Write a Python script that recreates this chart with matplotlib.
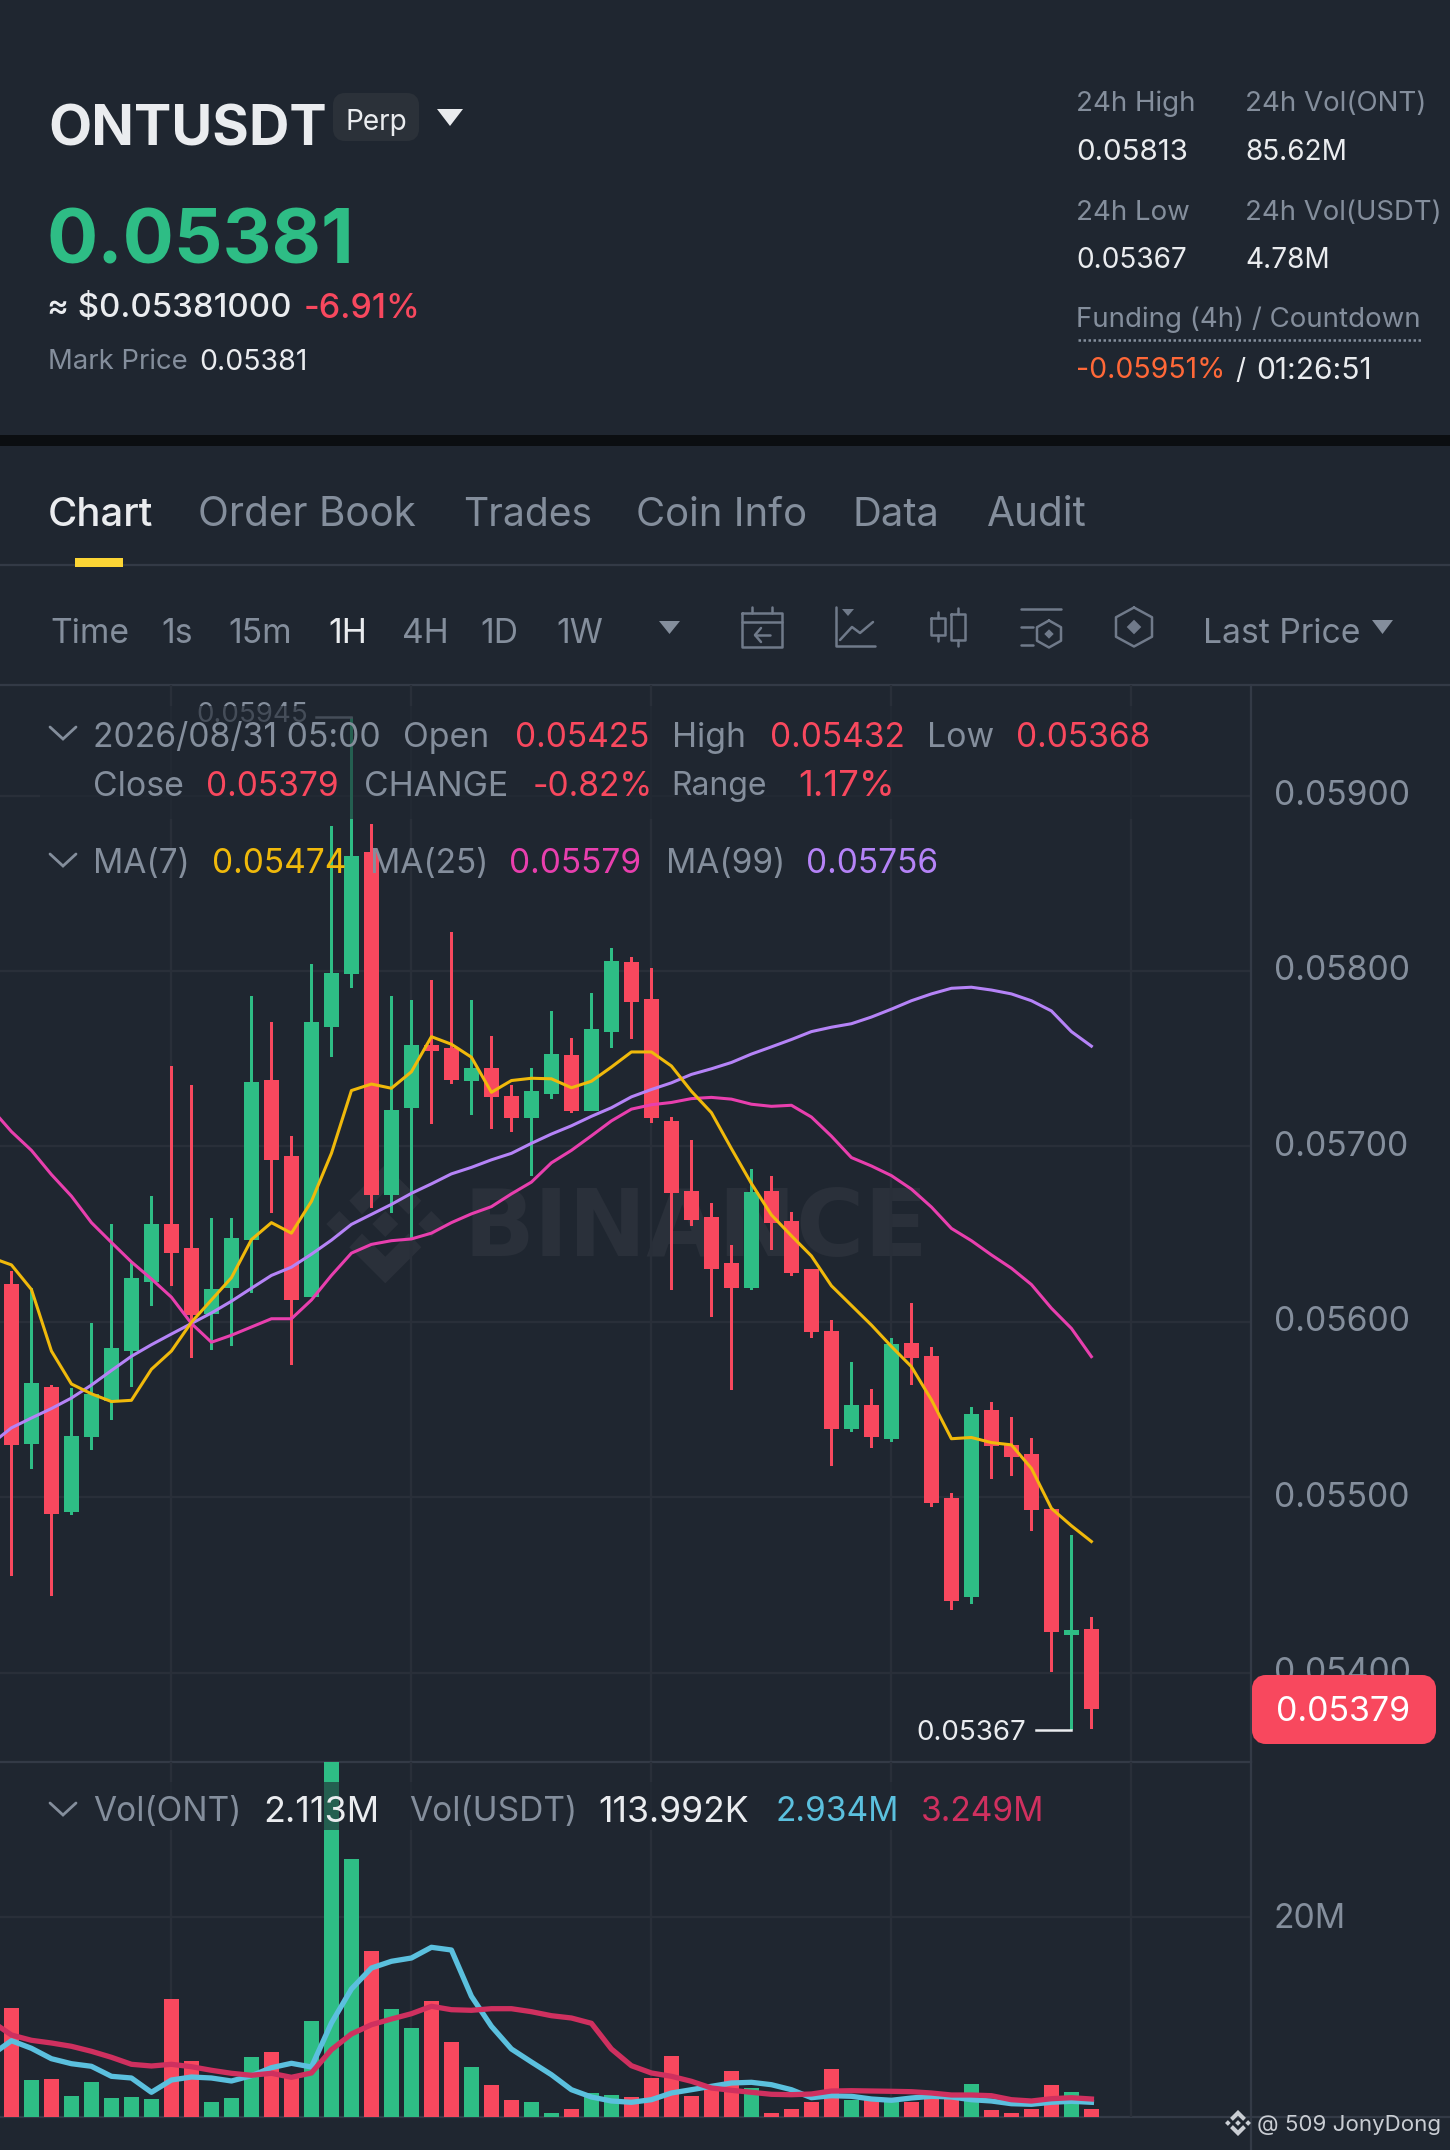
import numpy as np
import matplotlib
matplotlib.use('Agg')
import matplotlib.pyplot as plt
from matplotlib.patches import FancyBboxPatch, Polygon, Rectangle
from matplotlib.transforms import ScaledTranslation

plt.rcParams['font.family'] = ['Inter', 'DejaVu Sans']

# candles, one hour each
opens = [.056217, .055304, .055629, .054913, .055344, .055548, .055833, .056224, .056559, .056418, .056043,
         .056191, .056465, .057378, .056946, .056140, .057682, .057980, .058679, .056722, .057221, .057579,
         .057559, .057371, .057448, .057288, .057164, .057301, .057518, .057201, .057654, .058051, .057840,
         .057147, .056747, .056596, .056337, .056192, .056747, .056577, .056298, .055946, .055388, .055526,
         .055330, .055878, .055804, .054994, .054429, .055494, .055295, .055247, .054933, .054212, .05425]
closes = [.055298, .055649, .054906, .055348, .055589, .055849, .056248, .056559, .056391, .056040, .056187,
          .056478, .057368, .056923, .056124, .057706, .057987, .058656, .056722, .057207, .057579, .057545,
          .057378, .057448, .057284, .057164, .057318, .057528, .057201, .057669, .058058, .057821, .057163,
          .056734, .056580, .056301, .056192, .056737, .056564, .056279, .055939, .055391, .055526, .055340,
          .055875, .055792, .054968, .054410, .055474, .055292, .055231, .054929, .054231, .054240, .05379]
highs = [.056291, .056191, .055639, .055622, .05599, .056559, .056341, .056719, .057458, .057348, .056592,
         .056592, .057856, .057709, .05706, .058037, .058826, .05945, .058839, .057856, .057836, .057946,
         .058221, .057836, .057629, .057348, .057448, .057769, .057619, .057876, .058128, .05808, .058019,
         .057167, .057038, .056676, .056436, .056869, .05683, .056628, .056298, .056010, .055769, .055615,
         .055907, .056109, .055856, .055026, .055513, .055545, .055458, .055337, .054936, .054782, .054314]
lows = [.054552, .05516, .054435, .054899, .055271, .055441, .055629, .05609, .056204, .055793, .05584,
        .055863, .056164, .056622, .055752, .05614, .057512, .0579, .056649, .056622, .056478, .057127,
        .057358, .057181, .0571, .05708, .056829, .057268, .057191, .057201, .057561, .057612, .057131,
        .056179, .056548, .056029, .055609, .056179, .056407, .05626, .05591, .055176, .055369, .055279,
        .055317, .055638, .054946, .054359, .054388, .055106, .055119, .054808, .054003, .05367, .053676]

# moving averages, first point sits just left of the visible range
ma7 = [.056365, .056324, .056184, .055833, .055645, .055589, .055545, .055552, .055729, .055833, .055997,
       .056124, .056251, .056468, .056565, .056505, .056686, .05696, .057318, .057355, .057331, .057425,
       .057625, .057582, .057508, .057308, .057375, .057388, .057385, .057334, .057371, .057452, .057538,
       .057538, .057458, .057314, .057192, .056987, .056788, .056609, .05649, .056375, .056205, .056093,
       .055981, .055859, .055744, .055555, .055333, .05534, .055311, .055298, .055164, .054936, .054837, .054747]
ma25 = [.057214, .057084, .056977, .056839, .056716, .056565, .056452, .056341, .056244, .05614, .05599,
        .055883, .055923, .05597, .056017, .056017, .056124, .056264, .056391, .056441, .056462, .056472,
        .056505, .056565, .056615, .056656, .056729, .056796, .056906, .056977, .05706, .057145, .057212,
        .057237, .05725, .057272, .057279, .057269, .05724, .057228, .057234, .057167, .057058, .056936,
        .056888, .056833, .056756, .056654, .056532, .056462, .056381, .056305, .056212, .056077, .055962, .055801]
ma99 = [.055304, .055395, .055451, .055505, .055565, .055639, .055722, .055803, .055869, .05593, .05599,
        .05605, .056117, .056191, .056264, .056311, .056385, .056465, .056555, .056612, .056669, .056732,
        .056786, .056843, .05688, .056923, .05696, .057017, .05707, .057117, .057171, .05722, .057282,
        .057324, .057362, .05741, .057442, .057478, .057526, .057567, .057609, .057654, .057679, .057699,
        .057737, .057782, .05783, .057869, .057901, .057907, .057891, .057869, .05783, .057772, .057654, .057571]

# volume in millions
vols = [10.9, 3.73, 3.8, 2.13, 3.47, 1.87, 2.0, 1.8, 11.77, 5.6, 1.53, 1.87, 6.03, 6.53, 4.2, 9.57, 36.0, 25.77,
        16.6, 10.83, 8.93, 11.6, 7.47, 4.97, 3.23, 1.67, 1.53, 0.4, 0.8, 2.4, 2.17, 2.0, 3.9, 6.13, 2.13, 2.9,
        4.63, 2.9, 0.4, 0.8, 1.53, 4.83, 1.67, 1.73, 1.57, 1.47, 1.9, 2.23, 3.27, 0.73, 0.4, 0.8, 3.23, 2.47, 0.77]
vol_ma5 = [6.2, 7.63, 6.87, 5.83, 5.33, 5.07, 4.07, 3.9, 2.47, 3.7, 4.0, 3.9, 3.6, 4.13, 4.93, 5.37, 5.0, 9.4, 12.8,
           14.9, 15.57, 15.9, 16.97, 16.7, 12.07, 9.07, 6.8, 5.5, 4.23, 2.73, 2.0, 1.6, 1.47, 1.73, 2.4, 2.73,
           3.07, 3.4, 3.47, 3.23, 2.73, 1.93, 2.13, 2.07, 1.8, 1.67, 1.9, 2.07, 2.0, 1.73, 1.6, 1.33, 1.27, 1.47,
           1.57, 1.47]
vol_ma10 = [9.57, 8.2, 7.67, 7.4, 7.07, 6.57, 5.97, 5.27, 5.1, 5.27, 5.03, 4.67, 4.37, 4.17, 4.37, 3.97, 4.4, 6.73,
            8.3, 9.23, 9.8, 10.33, 11.07, 10.73, 10.67, 10.83, 10.83, 10.53, 10.13, 9.9, 9.37, 6.8, 5.13, 4.4,
            4.07, 3.57, 2.9, 2.67, 2.47, 2.27, 2.23, 2.3, 2.6, 2.63, 2.6, 2.57, 2.53, 2.4, 2.2, 2.2, 2.13, 1.73,
            1.6, 1.83, 1.93, 1.8]

price_ticks = [.054, .055, .056, .057, .058, .059]
time_ticks = [8, 20, 32, 44, 56]

BG = '#1F2630'
GRID = '#292F39'
LINE = '#333A46'
GREY = '#848E9C'
WHITE = '#EAECEF'
GREEN = '#2EBD85'
RED = '#F8485E'
W, H = 1450, 2150

fig = plt.figure(figsize=(W / 100, H / 100), dpi=100, facecolor=BG)


def full_axes(z):
    a = fig.add_axes([0, 0, 1, 1], zorder=z)
    a.set_xlim(0, W)
    a.set_ylim(H, 0)
    a.axis('off')
    return a


def logo(a, cx, cy, s, color, z=1):
    # binance mark: three small diamonds and two chevrons
    for dx in (-46, 0, 46):
        pts = [(dx, -13), (dx + 13, 0), (dx, 13), (dx - 13, 0)]
        a.add_patch(Polygon([(cx + p * s, cy + q * s) for p, q in pts], fc=color, ec='none', zorder=z))
    for sign in (1, -1):
        pts = [(0, 59.3), (-36, 23.3), (-23.3, 9.5), (0, 32.7), (23.3, 9.5), (36, 23.3)]
        a.add_patch(Polygon([(cx + p * s, cy + sign * q * s) for p, q in pts], fc=color, ec='none', zorder=z))


back = full_axes(0)
ov = full_axes(3)


def txt(x, y, s, color=GREY, px=30, weight='normal', ha='left', a=ov, z=5, **kw):
    a.text(x, y, s, color=color, fontsize=px * 0.72, fontweight=weight, ha=ha, va='center', zorder=z, **kw)


def lift_labels(a, n=3):
    # tick labels sit a little higher in the reference
    up = ScaledTranslation(0, n / 100, fig.dpi_scale_trans)
    for lab in a.get_yticklabels():
        lab.set_transform(lab.get_transform() + up)


# header band and dividers
back.add_patch(Rectangle((0, 435), W, 11, fc='#0B0E11', ec='none'))
back.plot([0, W], [565, 565], color=LINE, lw=1.6)
back.plot([0, W], [685, 685], color=LINE, lw=1.6)
back.plot([1251, 1251], [2117, H], color=LINE, lw=1.6)
back.plot([0, W], [2117, 2117], color=LINE, lw=1.6)
back.add_patch(Rectangle((75, 558), 48, 9, fc='#FCD535', ec='none', zorder=3))

# watermark under the candles
logo(back, 385.3, 1224, 1, '#2A303A')
txt(464, 1230, 'BINANCE', '#2A303A', 93, 'bold', a=back, family='DejaVu Sans')

# price pane
ax = fig.add_axes([0, 1 - 1762 / H, 1251 / W, (1762 - 685) / H], zorder=1, facecolor='none')
ax.set_xlim(-0.5715, 61.98)
ax.set_ylim(.05349, .05963)
ax.set_yticks(price_ticks)
ax.set_yticklabels(['%.5f' % p for p in price_ticks])
ax.set_xticks(time_ticks)
ax.set_xticklabels([])
ax.yaxis.tick_right()
ax.tick_params(length=0, labelsize=24.3, labelcolor=GREY, pad=16.5)
lift_labels(ax)
ax.grid(color=GRID, lw=1.7)
ax.set_axisbelow(True)
for name, sp in ax.spines.items():
    sp.set_visible(name in ('right', 'bottom'))
    sp.set_color(LINE)
    sp.set_linewidth(1.6)

idx = np.arange(len(opens))
o, c, hi, lo = map(np.array, (opens, closes, highs, lows))
colors = [GREEN if a >= b else RED for a, b in zip(c, o)]
ax.bar(idx, hi - lo, bottom=lo, width=0.125, color=colors, zorder=3)
ax.bar(idx, np.abs(c - o), bottom=np.minimum(o, c), width=0.715, color=colors, zorder=3)

ma_x = np.arange(-1, len(opens))
ax.plot(ma_x, ma99, color='#B583F7', lw=2.2, zorder=4)
ax.plot(ma_x, ma25, color='#E83FAE', lw=2.2, zorder=4)
ax.plot(ma_x, ma7, color='#F0B90B', lw=2.2, zorder=5)

# high and low markers
ax.plot([15.25, 17], [max(highs), max(highs)], color=GREY, lw=1.8, zorder=4)
ax.plot([51.25, 53], [min(lows), min(lows)], color=WHITE, lw=1.8, zorder=6)
ax.annotate('%.5f' % max(highs), (14.85, max(highs)), xytext=(0, 1), textcoords='offset points', color=GREY,
            fontsize=20, ha='right', va='center', zorder=4)
ax.annotate('%.5f' % min(lows), (50.75, min(lows)), xytext=(0, -2), textcoords='offset points', color=WHITE,
            fontsize=20, ha='right', va='center', zorder=6)

# volume pane
vx = fig.add_axes([0, 1 - 2117 / H, 1251 / W, 355 / H], zorder=2, facecolor='none')
vx.set_xlim(-0.5715, 61.98)
vx.set_ylim(0, 35.5)
vx.set_yticks([20])
vx.set_yticklabels(['20M'])
vx.set_xticks(time_ticks)
vx.set_xticklabels([])
vx.yaxis.tick_right()
vx.tick_params(length=0, labelsize=24.3, labelcolor=GREY, pad=16.5)
lift_labels(vx, 1)
vx.grid(color=GRID, lw=1.7)
vx.set_axisbelow(True)
for name, sp in vx.spines.items():
    sp.set_visible(name in ('right',))
    sp.set_color(LINE)
    sp.set_linewidth(1.6)
vx.bar(idx, vols, width=0.715, color=colors, zorder=3)
vx.plot(ma_x, vol_ma5, color='#5BC0DE', lw=3.8, zorder=4)
vx.plot(ma_x, vol_ma10, color='#CF305F', lw=3.8, zorder=5)

# legend blocks dim what is behind them
ov.add_patch(Rectangle((40, 706), 1120, 113, fc=BG, ec='none', alpha=0.62, zorder=1))
ov.add_patch(Rectangle((40, 1782), 1015, 48, fc=BG, ec='none', alpha=0.62, zorder=1))

# top left block
txt(48, 131, 'ONTUSDT', WHITE, 56, 'bold')
ov.add_patch(FancyBboxPatch((339, 99), 74, 36, boxstyle='round,pad=0,rounding_size=6', fc='#2B3139', ec='#2B3139',
                            lw=12 * 0.72, zorder=1))
txt(346, 123, 'Perp', WHITE, 28)
ov.add_patch(Polygon([(437, 109), (463, 109), (450, 126)], fc=WHITE, ec='none'))
txt(47, 244, '0.05381', GREEN, 76, 'bold')
txt(47, 309, '≈ $0.05381000', WHITE, 33, 'medium')
txt(304, 309, '-6.91%', RED, 34, 'medium')
txt(48, 362, 'Mark Price', GREY, 27.5)
txt(199, 362, '0.05381', WHITE, 28.5)

# top right block
for x, y, s, col, px in [(1076, 104, '24h High', GREY, 27.7), (1245, 104, '24h Vol(ONT)', GREY, 27.7),
                         (1076, 153, '0.05813', WHITE, 29.5), (1245, 153, '85.62M', WHITE, 28),
                         (1076, 213, '24h Low', GREY, 27.7), (1245, 213, '24h Vol(USDT)', GREY, 27.5),
                         (1076, 261, '0.05367', WHITE, 28), (1245, 261, '4.78M', WHITE, 28),
                         (1076, 320, 'Funding (4h) / Countdown', GREY, 27.7),
                         (1076, 371, '-0.05951%', '#FF6838', 28.5),
                         (1235, 371, '/', WHITE, 28), (1256, 371, '01:26:51', WHITE, 30)]:
    txt(x, y, s, col, px)
ov.plot([1078, 1422], [340, 340], color=GREY, lw=1.8, ls=(0, (1, 1)))

# tabs
for x, s, col, px in [(48, 'Chart', WHITE, 40), (198, 'Order Book', GREY, 40.5), (463, 'Trades', GREY, 39),
                      (636, 'Coin Info', GREY, 40), (853, 'Data', GREY, 40), (987, 'Audit', GREY, 40.5)]:
    txt(x, 515, s, col, px, 'medium' if s == 'Chart' else 'normal')

# interval row
for x, s, col in [(50, 'Time', GREY), (161, '1s', GREY), (228, '15m', GREY), (328, '1H', WHITE), (402, '4H', GREY),
                  (480, '1D', GREY), (556, '1W', GREY), (1203, 'Last Price', GREY)]:
    txt(x, 634, s, col, 33.6)
ICON = '#707A8A'
ov.add_patch(Polygon([(659, 621), (680, 621), (669.5, 634)], fc=GREY, ec='none'))
ov.add_patch(Polygon([(1372, 620), (1393, 620), (1382.5, 634)], fc=GREY, ec='none'))


def ic(xs, ys, **kw):
    ov.plot(xs, ys, color=ICON, lw=1.8, solid_capstyle='round', solid_joinstyle='round', **kw)


def hexagon(cx, cy, rx, ry):
    return ([cx, cx + rx, cx + rx, cx, cx - rx, cx - rx, cx],
            [cy - ry, cy - ry / 2, cy + ry / 2, cy + ry, cy + ry / 2, cy - ry / 2, cy - ry])


def diamond(cx, cy, r):
    ov.add_patch(Polygon([(cx, cy - r), (cx + r, cy), (cx, cy + r), (cx - r, cy)], fc=ICON, ec='none'))


ic([742, 782, 782, 742, 742], [613, 613, 647, 647, 613])
ic([742, 782], [622, 622])
ic([752, 752], [607, 613])
ic([772, 772], [607, 613])
ic([770, 755], [635, 635])
ic([761, 755, 761], [628, 635, 642])
ic([836, 836, 875], [607, 646, 646])
ov.add_patch(Polygon([(842, 609), (854, 609), (848, 616)], fc=ICON, ec='none'))
ic([840, 852, 860, 873], [640, 627, 633, 622])
ic([931, 945, 945, 931, 931], [618, 618, 635, 635, 618])
ic([951, 965, 965, 951, 951], [614, 614, 640, 640, 614])
ic([938, 938], [612, 618])
ic([938, 938], [635, 641])
ic([958, 958], [608, 614])
ic([958, 958], [640, 646])
ic([1021, 1061], [609, 609])
ic([1021, 1033], [627, 627])
ic([1021, 1033], [645, 645])
ic(*hexagon(1049, 634, 12, 13.5))
diamond(1049, 634, 4.7)
ic(*hexagon(1134, 627, 18, 19.5))
diamond(1134, 627, 7.3)


def chevron(y):
    ov.plot([50, 63, 76], [y - 6, y + 6, y - 6], color=GREY, lw=2, solid_capstyle='round', solid_joinstyle='miter')


# legends over the chart
chevron(733)
chevron(860)
chevron(1809)
for x, y, s, col, px in [(93, 738, '2026/08/31 05:00', GREY, 33.8), (403, 738, 'Open', GREY, 33.8),
                         (515, 738, '0.05425', RED, 33.5), (672, 738, 'High', GREY, 33.8),
                         (770, 738, '0.05432', RED, 33.5), (927, 738, 'Low', GREY, 33.8),
                         (1016, 738, '0.05368', RED, 33.5),
                         (93, 787, 'Close', GREY, 33.8), (206, 787, '0.05379', RED, 33.5),
                         (364, 787, 'CHANGE', GREY, 33.8), (533, 787, '-0.82%', RED, 33.5),
                         (671, 787, 'Range', GREY, 32), (798, 787, '1.17%', RED, 36.5),
                         (93, 864, 'MA(7)', GREY, 33.5), (212, 864, '0.05474', '#F0B90B', 33.5),
                         (370, 864, 'MA(25)', GREY, 33.5), (509, 864, '0.05579', '#E83FAE', 33.5),
                         (666, 864, 'MA(99)', GREY, 33.5), (806, 864, '0.05756', '#B583F7', 33.5),
                         (93, 1812, 'Vol(ONT)', GREY, 33.5), (263, 1812, '2.113M', WHITE, 36),
                         (409, 1812, 'Vol(USDT)', GREY, 33.5), (598, 1812, '113.992K', WHITE, 35.5),
                         (776, 1812, '2.934M', '#5BC0DE', 33.5), (921, 1812, '3.249M', '#CF305F', 33.5)]:
    txt(x, y, s, col, px)

# last price tag
ov.add_patch(FancyBboxPatch((1262, 1685), 164, 49, boxstyle='round,pad=0,rounding_size=4', fc=RED, ec=RED,
                            lw=20 * 0.72, zorder=4))
txt(1343, 1712, '0.05379', 'white', 34, ha='center')

# screenshot tag
logo(ov, 1238, 2123, 0.22, '#C9CDD3')
txt(1257, 2125, '@ 509 JonyDong', '#C9CDD3', 22.3)

fig.savefig('out.png', dpi=100, facecolor=BG)
